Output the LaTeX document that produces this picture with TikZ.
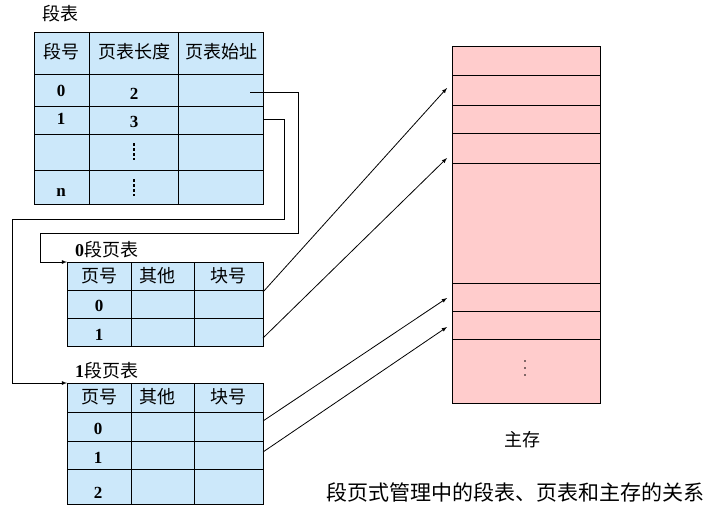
\documentclass[tikz,border=0pt]{standalone}
\usepackage{fontspec}
\setmainfont{Liberation Serif}
\newfontfamily\cjk{Noto Sans CJK SC}
\usetikzlibrary{positioning}
\definecolor{tabblue}{RGB}{204,232,250}
\definecolor{mempink}{RGB}{255,204,204}
\begin{document}
\begin{tikzpicture}[x=1pt,y=-1pt,
  lbl/.style={font=\cjk\fontsize{18}{18}\selectfont},
  num/.style={font=\bfseries\fontsize{17}{17}\selectfont},
  vdots/.style={line width=1.6pt,dash pattern=on 3pt off 2pt},
  link/.style={thick,-latex}]
 \useasboundingbox (0,0) rectangle (720,512);

 %Segment table
 \node (segtitle) [lbl] at (60,14) {段表};
 \fill[tabblue] (34,32) rectangle (263,204);
 \draw[thick] (34,32) rectangle (263,204);
 \foreach \y in {74,106,134,170}
 \draw (34,\y) -- (263,\y);
 \foreach \x in {89,178}
 \draw (\x,32) -- (\x,204);
 \node (seghead1) [lbl] at (61,52) {段号};
 \node (seghead2) [lbl] at (134,52) {页表长度};
 \node (seghead3) [lbl] at (221,52) {页表始址};
 \node (seg0) [num] at (61,91) {0};
 \node (seg1) [num] at (61,119) {1};
 \node (segn) [num] at (61,192) {n};
 \node (len0) [num] at (134,94) {2};
 \node (len1) [num] at (134,122) {3};
 \draw[vdots] (134,143) -- (134,160);
 \draw[vdots] (134,179) -- (134,196);
 \coordinate (addr0) at (250,92);
 \coordinate (addr1) at (263,119);

 %Page tables
 \foreach \t/\top in {0/262,1/383}{
  \node (pt\t title) [lbl,anchor=west,inner sep=0pt] at (75,\top-12) {{\rmfamily\bfseries\t}段页表};
  \coordinate (pt\t) at (67,\top);
 }
 \fill[tabblue] (67,262) rectangle (263,346);
 \draw[thick] (67,262) rectangle (263,346);
 \foreach \y in {290,318} \draw (67,\y) -- (263,\y);
 \fill[tabblue] (67,383) rectangle (263,504);
 \draw[thick] (67,383) rectangle (263,504);
 \foreach \y in {412,441,469} \draw (67,\y) -- (263,\y);
 \foreach \x in {131,194}{
  \draw (\x,262) -- (\x,346);
  \draw (\x,383) -- (\x,504);
 }
 \foreach \t/\top in {0/262,1/383}{
  \node (pg\t head1) [lbl] at (99,\top+14) {页号};
  \node (pg\t head2) [lbl] at (157,\top+14) {其他};
  \node (pg\t head3) [lbl] at (228,\top+14) {块号};
 }
 \node (p00) [num] at (99,306) {0};
 \node (p01) [num] at (99,335) {1};
 \node (p10) [num] at (98,429) {0};
 \node (p11) [num] at (98,458) {1};
 \node (p12) [num] at (98,493) {2};

 %Main memory
 \fill[mempink] (452,46) rectangle (600,403);
 \draw[thick] (452,46) rectangle (600,403);
 \foreach \y in {75,105,133,163,283,311,339}
 \draw[thick] (452,\y) -- (600,\y);
 \foreach \y in {361,368,375}
 \fill (525,\y) circle (0.9pt);
 \node (memtitle) [lbl] at (522,440) {主存};
 \node (caption) [lbl,anchor=east,font=\cjk\fontsize{21}{21}\selectfont] at (708,492) {段页式管理中的段表、页表和主存的关系};

 %Links
 \draw[link] (addr0) -- (298,92) -- (298,233) -- (40,233) -- (40,262) -- (pt0);
 \draw[link] (addr1) -- (284,119) -- (284,219) -- (12,219) -- (12,383) -- (pt1);
 \draw[link] (263,292) -- (447,88);
 \draw[link] (263,338) -- (447,158);
 \draw[link] (263,421) -- (447,298);
 \draw[link] (263,452) -- (447,327);
\end{tikzpicture}
\end{document}
